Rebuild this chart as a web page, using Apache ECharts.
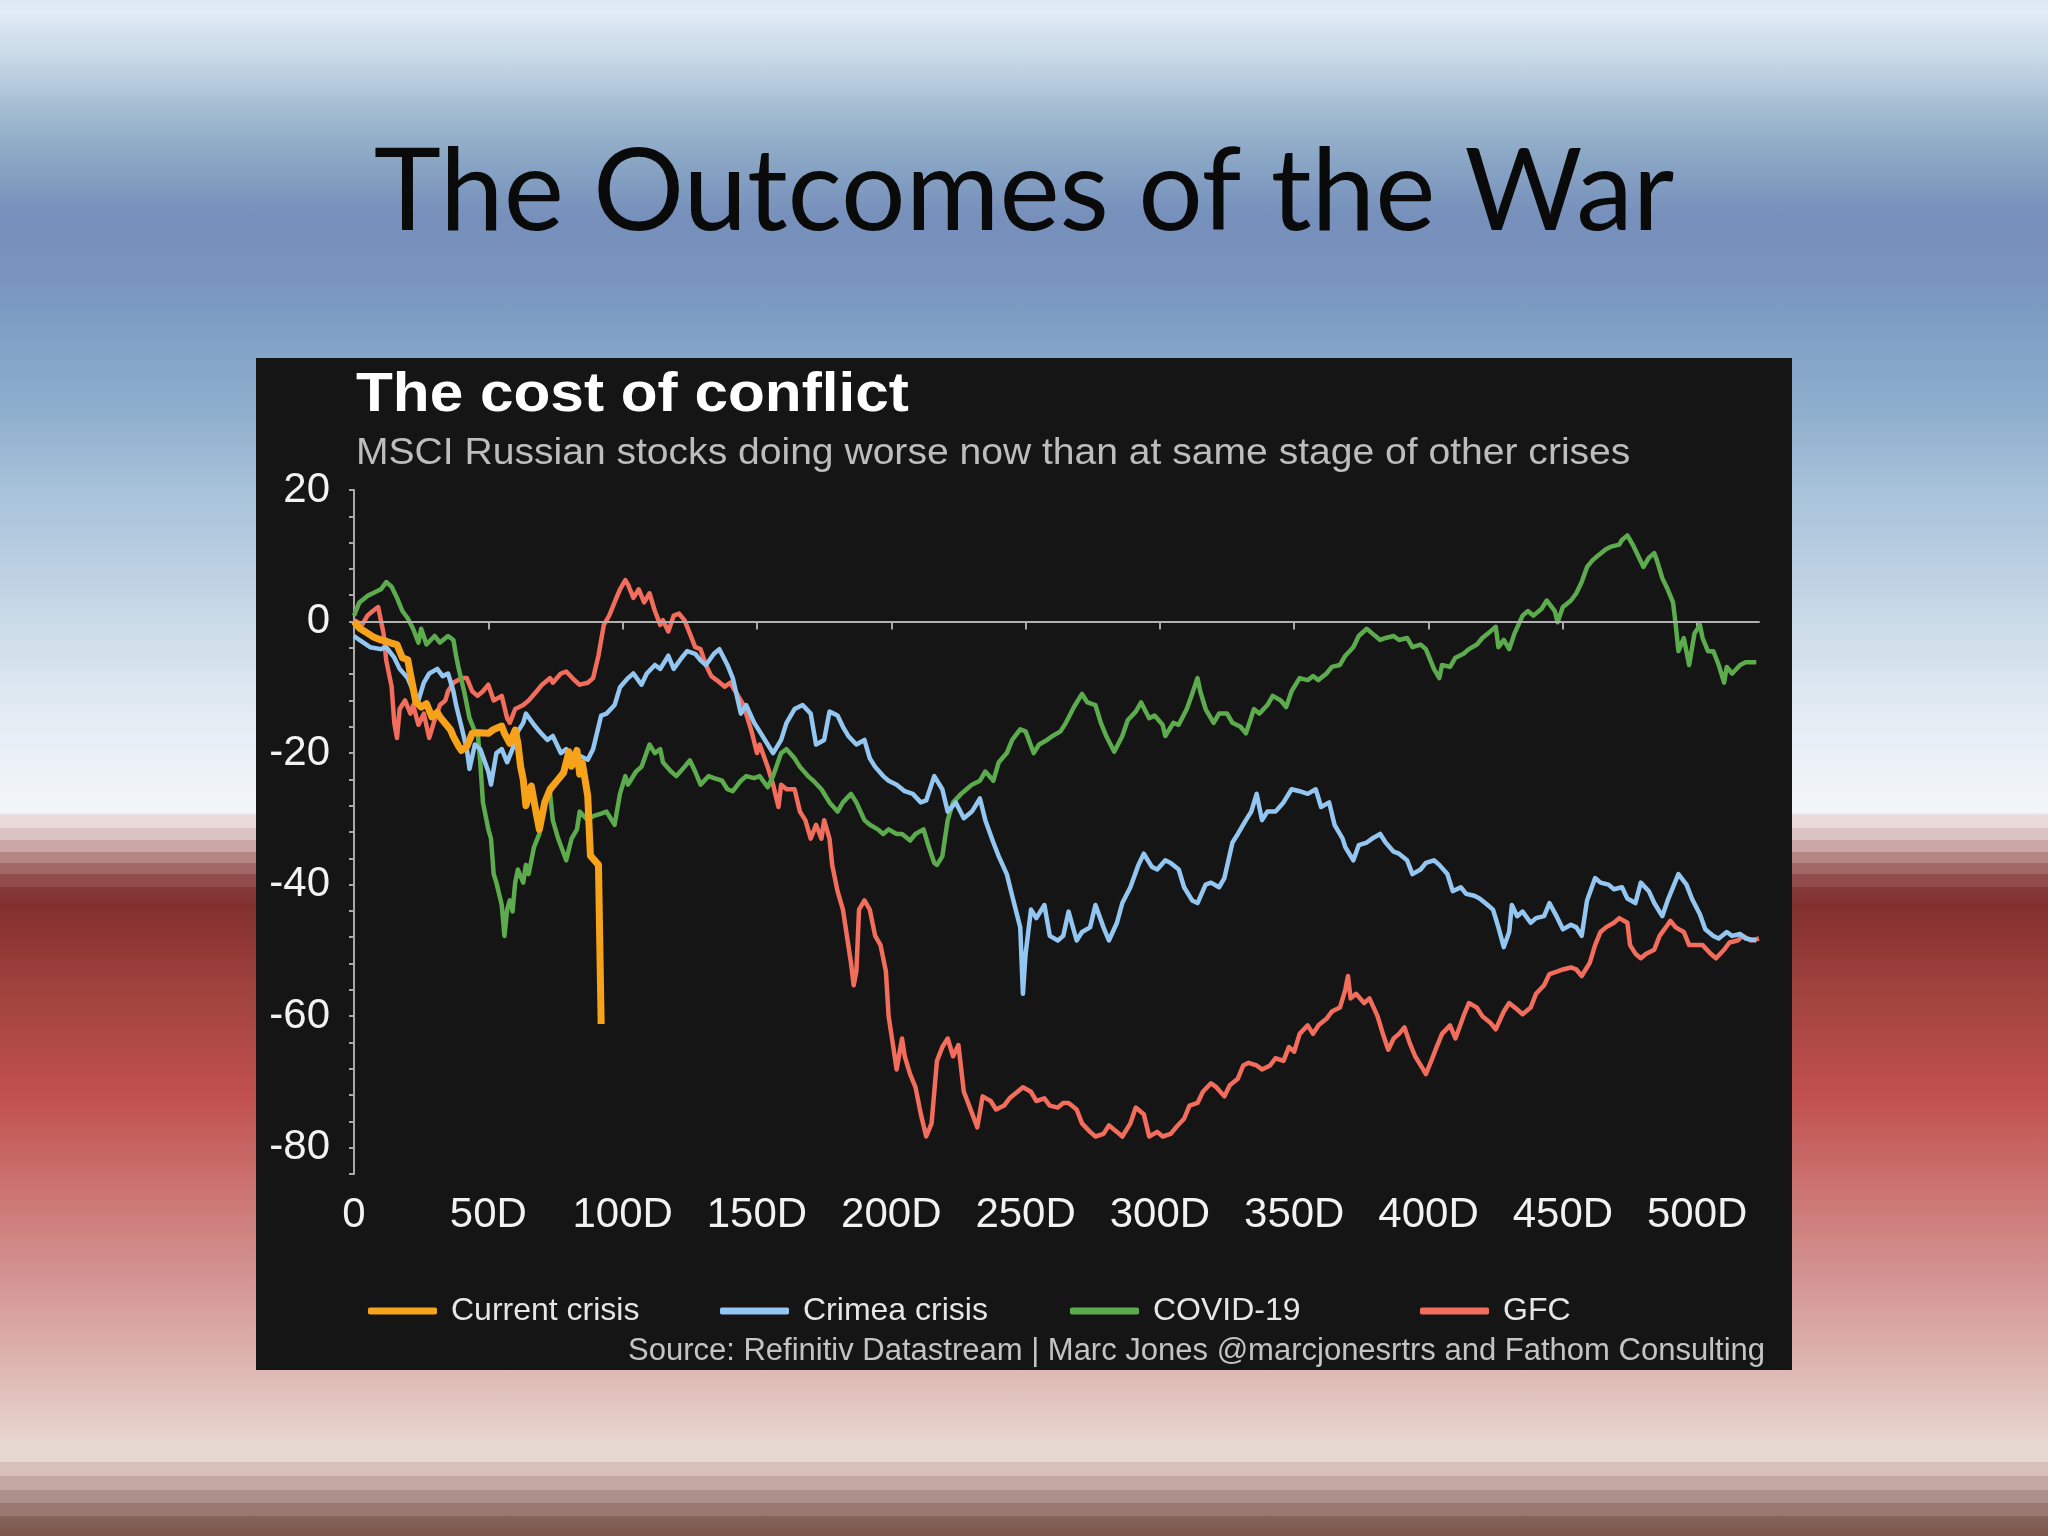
<!DOCTYPE html>
<html>
<head>
<meta charset="utf-8">
<title>The Outcomes of the War</title>
<script src="https://cdn.jsdelivr.net/npm/echarts@6/dist/echarts.min.js"></script>
<style>
  html, body { margin: 0; padding: 0; }
  body {
    width: 2048px; height: 1536px; overflow: hidden;
    background: linear-gradient(to bottom,
      #dde8f2 0px, #e2ecf5 12px, #d6e3ee 30px, #c9dae8 55px, #b5cadc 85px,
      #9fb9cf 115px, #8aa6c5 160px, #7690bb 215px, #7893bd 270px, #80a2c6 340px,
      #90b0ce 420px, #a7c2da 490px, #b9cee1 560px, #d0dfea 640px, #e4ecf4 720px,
      #f3f6f9 812px,
      #ead9d9 816px, #ead9d9 828px, #dcc3c3 828px, #dcc3c3 840px,
      #caa7a6 840px, #caa7a6 852px, #b48785 852px, #b48785 863px,
      #a06766 863px, #a06766 874px, #904b4a 874px, #904b4a 887px,
      #86393a 887px, #82302f 905px, #a4443f 1000px, #c0504d 1094px,
      #cb706d 1180px, #d49796 1286px, #e0bcb6 1380px, #e8d8d2 1446px,
      #e8d8d2 1462px, #d6c0b9 1462px, #d6c0b9 1476px, #c3a9a1 1476px,
      #c3a9a1 1490px, #ae918a 1490px, #ae918a 1503px, #9a7770 1503px,
      #9a7770 1516px, #87635b 1516px, #7d5549 1536px);
  }
  #main { width: 2048px; height: 1536px; }
</style>
</head>
<body>
<div id="main"></div>
<script>
// MSCI Russia, % change from the start of each crisis, [day, pct]
const currentCrisis = [
  [0, 0], [2, -1], [4, -1.5], [7, -2.3], [10, -2.8], [12, -3], [14, -3.3], [16, -3.5],
  [18, -5.5], [20, -5.8], [21, -8], [23, -12.2], [25, -13], [27, -12.5], [29, -14.5],
  [31, -13.8], [32, -14.5], [34, -15.5], [36, -16.5], [37, -17.5], [39, -19], [40, -19.6],
  [42, -19], [44, -17], [47, -16.9], [50, -17], [52, -16.4], [55, -15.9], [56, -17],
  [58, -18.5], [60, -16.5], [61, -18.5], [62, -22], [63, -24], [64, -28], [66, -25],
  [68, -29.5], [69, -31.6], [71, -27.5], [73, -25.5], [76, -24], [78, -23], [80, -19.8],
  [81, -22], [83, -19.6], [84, -23.2], [85, -21.5], [87, -26.5], [88, -35.6], [91, -37],
  [92, -61.2]
];

const crimeaCrisis = [
  [0, -2.2], [2, -2.8], [6, -3.9], [10, -4.2], [12, -3.9], [15, -5.5], [17, -7.2], [20, -8.6],
  [22, -10.6], [24, -12], [26, -9.3], [28, -7.9], [31, -7.2], [33, -8.3], [35, -7.9],
  [37, -10.6], [38, -12.7], [40, -16], [42, -19.4], [43, -22.4], [45, -18.7], [47, -19.4],
  [50, -22.8], [51, -24.8], [53, -20], [55, -19.4], [57, -21.4], [59, -19.4], [61, -16.7],
  [63, -15.4], [64, -14], [67, -15.7], [69, -16.7], [72, -18], [74, -17.4], [77, -20],
  [79, -19.4], [82, -21.8], [84, -20.4], [87, -21], [89, -19.4], [91, -16], [92, -14.3],
  [94, -14], [97, -12.7], [99, -10], [102, -8.6], [104, -7.9], [107, -9.6], [109, -7.9],
  [112, -6.6], [114, -7.2], [117, -5.2], [119, -7.2], [122, -5.5], [124, -4.5], [127, -4.9],
  [129, -5.9], [131, -6.6], [134, -4.9], [136, -4.2], [139, -6.6], [141, -8.6], [144, -14],
  [146, -12.7], [149, -15.4], [151, -16.7], [154, -18.7], [156, -20], [159, -18],
  [161, -15.4], [164, -13.3], [167, -12.7], [170, -14], [172, -18.7], [175, -18],
  [177, -13.7], [180, -14.3], [182, -16], [184, -17.4], [187, -18.7], [190, -18],
  [192, -20.8], [194, -22.1], [197, -23.5], [199, -24.2], [202, -24.8], [205, -25.8],
  [208, -26.2], [211, -27.5], [213, -27.2], [216, -23.5], [219, -25.5], [221, -28.9],
  [224, -27.5], [227, -29.9], [230, -28.9], [233, -26.9], [235, -30.2], [238, -33.6],
  [240, -35.7], [243, -38.4], [245, -41.7], [248, -46.5], [249, -56.6], [250, -50.5],
  [252, -43.8], [254, -45.1], [257, -43.1], [259, -47.8], [262, -48.5], [264, -47.8],
  [266, -44.1], [269, -48.5], [271, -47.2], [274, -46.5], [276, -43.1], [279, -46.5],
  [281, -48.5], [284, -45.8], [286, -42.8], [289, -40.4], [292, -37], [294, -35.3],
  [297, -37.3], [299, -37.7], [302, -36.3], [304, -36.7], [307, -37.7], [309, -40.4],
  [312, -42.4], [314, -42.8], [317, -40], [319, -39.7], [322, -40.4], [324, -39],
  [327, -33.6], [329, -32.3], [332, -30.2], [334, -28.9], [336, -26.2], [338, -30.2],
  [340, -28.9], [343, -28.9], [346, -27.5], [349, -25.5], [352, -25.8], [355, -26.2],
  [358, -25.5], [360, -28.2], [363, -27.5], [365, -30.9], [368, -33], [369, -34.3],
  [372, -36.3], [374, -34], [377, -33.6], [379, -33], [382, -32.3], [384, -33.6], [387, -35],
  [389, -35.3], [392, -36.3], [394, -38.4], [397, -37.7], [399, -36.7], [402, -36.3],
  [404, -37], [407, -38.4], [409, -41], [412, -40.4], [414, -41.4], [417, -41.7],
  [419, -42.1], [422, -43.1], [424, -43.8], [426, -46.5], [428, -49.5], [430, -47.2],
  [431, -43.1], [433, -44.8], [435, -44.1], [438, -45.8], [440, -45.1], [443, -44.8],
  [445, -42.8], [448, -45.1], [450, -46.8], [453, -46.1], [455, -46.5], [457, -47.8],
  [459, -42.4], [462, -39], [464, -39.7], [467, -40], [469, -40.7], [472, -40.4],
  [474, -42.1], [477, -42.8], [479, -39.7], [482, -41], [484, -42.8], [487, -44.8],
  [489, -42.4], [492, -39.4], [493, -38.4], [496, -40], [498, -42.1], [501, -44.5],
  [503, -46.8], [506, -47.8], [508, -48.2], [511, -47.2], [513, -47.8], [516, -47.5],
  [518, -48.2], [522, -48.5]
];

const covid19 = [
  [0, 0.9], [2, 2.9], [5, 3.9], [7, 4.3], [10, 4.9], [12, 6], [14, 5.3], [16, 3.6], [18, 1.6],
  [20, 0.5], [22, -1.1], [24, -3.2], [25, -1.1], [27, -3.5], [30, -2.2], [32, -3.2],
  [35, -2.2], [37, -2.8], [38, -5.2], [39, -7.2], [41, -10.6], [43, -14.7], [45, -16.7],
  [46, -16.7], [47, -21.4], [48, -27.5], [50, -31.6], [51, -33], [52, -38.4], [53, -39.7],
  [55, -43.1], [56, -47.8], [57, -43.8], [58, -42.4], [59, -44.1], [60, -39.7], [61, -37.7],
  [63, -39.7], [64, -37], [65, -38.4], [67, -34.3], [69, -32.3], [71, -27.5], [73, -26.2],
  [74, -30.2], [76, -33], [79, -36.3], [81, -33], [83, -31.6], [84, -28.9], [87, -30.2],
  [89, -29.6], [92, -29.2], [94, -28.9], [97, -30.9], [99, -26.2], [101, -23.5],
  [102, -24.8], [105, -22.8], [107, -22.1], [110, -18.7], [112, -20], [114, -19.4],
  [115, -21.4], [118, -22.8], [120, -23.5], [123, -22.1], [125, -21.1], [127, -22.8],
  [129, -24.8], [132, -23.5], [134, -23.8], [137, -24.2], [139, -25.5], [141, -25.8],
  [144, -24.2], [146, -23.5], [149, -23.8], [151, -23.5], [154, -25.2], [156, -23.5],
  [159, -20], [161, -19.4], [164, -20.8], [166, -22.1], [169, -23.5], [171, -24.2],
  [174, -25.5], [177, -27.5], [180, -28.9], [182, -27.5], [185, -26.2], [187, -27.5],
  [190, -30.2], [192, -30.9], [195, -31.6], [197, -32.3], [199, -31.6], [202, -32.3],
  [204, -32.3], [207, -33.3], [209, -32.3], [212, -31.6], [214, -34.3], [216, -36.7],
  [217, -37], [219, -35.7], [221, -30.2], [223, -27.5], [226, -26.2], [228, -25.5],
  [230, -24.8], [233, -24.2], [235, -22.8], [238, -24.2], [240, -21.4], [243, -20],
  [245, -18], [248, -16.4], [250, -16.7], [253, -20], [255, -18.7], [258, -18], [260, -17.4],
  [263, -16.7], [265, -15.4], [268, -13], [271, -11], [273, -12.3], [276, -12.7],
  [278, -15.4], [280, -17.4], [283, -19.8], [286, -17.4], [288, -15], [291, -13.7],
  [293, -12.3], [296, -14.7], [298, -14.3], [301, -15.7], [302, -17.4], [305, -15.4],
  [307, -15.7], [310, -13.3], [312, -11], [314, -8.6], [315, -10.6], [317, -13.3],
  [320, -15.4], [322, -14], [325, -14], [327, -15.4], [330, -16], [332, -17], [335, -13.3],
  [337, -14], [340, -12.7], [342, -11.3], [345, -12], [347, -13], [349, -10.6], [352, -8.6],
  [355, -8.9], [357, -8.3], [359, -8.9], [362, -7.9], [364, -6.9], [367, -6.6], [369, -5.2],
  [372, -3.9], [374, -2.2], [377, -1.1], [379, -1.8], [382, -2.8], [384, -2.5], [387, -2.2],
  [389, -2.8], [392, -2.5], [394, -3.9], [397, -3.5], [399, -4.2], [402, -7.2], [404, -8.6],
  [405, -6.6], [408, -6.9], [410, -5.5], [413, -4.9], [415, -4.2], [418, -3.5], [420, -2.5],
  [423, -1.5], [425, -0.8], [426, -3.9], [428, -2.8], [430, -4.2], [432, -1.8], [435, 0.9],
  [437, 1.6], [439, 0.9], [442, 1.9], [444, 3.2], [447, 1.6], [448, -0.1], [450, 2.2],
  [453, 3.2], [455, 4.3], [457, 6], [459, 8.3], [461, 9.3], [463, 10], [466, 11],
  [468, 11.4], [471, 11.7], [472, 12.4], [474, 13.1], [476, 11.7], [478, 10], [480, 8.3],
  [482, 9.7], [484, 10.4], [485, 9.3], [487, 6.6], [489, 4.9], [491, 2.9], [492, -0.5],
  [493, -4.5], [495, -2.5], [497, -6.6], [499, -1.8], [501, -0.5], [502, -2.5], [504, -4.5],
  [506, -4.5], [508, -6.6], [510, -9.3], [511, -6.9], [513, -7.9], [516, -6.6], [518, -6.2],
  [522, -6.2]
];

const gfc = [
  [0, 0.2], [3, -0.5], [5, 0.9], [7, 1.6], [9, 2.2], [11, -1.8], [12, -5.9], [14, -9.9],
  [15, -15.4], [16, -17.7], [17, -13.3], [19, -12], [21, -14], [22, -12.7], [24, -15.7],
  [26, -14], [28, -17.7], [30, -15], [32, -12.7], [34, -12], [35, -10.6], [37, -9.3],
  [40, -8.6], [42, -8.6], [44, -10.6], [46, -11.3], [48, -10.6], [50, -9.6], [52, -12],
  [55, -11.3], [57, -14.7], [58, -15.4], [60, -13.3], [63, -12.7], [65, -12], [68, -10.6],
  [70, -9.6], [73, -8.6], [74, -9.3], [77, -7.9], [79, -7.6], [82, -8.9], [84, -9.6],
  [87, -9.3], [89, -8.6], [91, -5.2], [93, -0.5], [95, 0.9], [97, 2.9], [99, 4.9], [101, 6.3],
  [102, 5.6], [104, 3.6], [106, 4.9], [108, 2.9], [110, 4.3], [112, 1.6], [114, -0.5],
  [115, 0.2], [117, -1.5], [119, 0.9], [121, 1.2], [123, 0.2], [125, -1.8], [127, -3.9],
  [129, -4.2], [131, -6.6], [133, -8.3], [135, -8.9], [138, -9.9], [140, -9.3], [143, -11.3],
  [145, -12.7], [148, -16.7], [150, -20], [151, -18.7], [154, -22.1], [156, -24.8],
  [158, -28.2], [159, -24.8], [161, -25.5], [164, -25.5], [166, -28.9], [168, -30.2],
  [170, -33], [172, -30.9], [174, -33], [175, -30.2], [177, -33], [178, -37], [180, -41],
  [182, -43.8], [183, -46.5], [185, -51.9], [186, -55.3], [187, -53.2], [188, -43.8],
  [190, -42.4], [192, -43.8], [194, -47.8], [196, -49.2], [198, -53.2], [199, -60],
  [201, -65.4], [202, -68.1], [204, -63.4], [205, -66.1], [207, -68.8], [209, -70.8],
  [211, -74.9], [213, -78.3], [215, -76.3], [217, -66.8], [219, -64.7], [221, -63.4],
  [223, -66.1], [225, -64.4], [227, -71.5], [229, -73.6], [232, -76.9], [234, -72.2],
  [237, -72.9], [239, -74.2], [242, -73.6], [244, -72.5], [247, -71.5], [249, -70.8],
  [252, -71.5], [254, -72.9], [257, -72.5], [259, -73.6], [262, -73.9], [264, -73.2],
  [266, -73.2], [269, -74.2], [271, -76.3], [274, -77.6], [276, -78.3], [279, -77.9],
  [281, -76.6], [284, -77.6], [286, -78.3], [289, -76.3], [291, -73.9], [294, -74.9],
  [296, -78.3], [299, -77.6], [301, -78.3], [304, -77.9], [306, -76.9], [309, -75.6],
  [311, -73.6], [314, -73.2], [316, -71.5], [319, -70.2], [321, -70.8], [324, -72.2],
  [326, -70.5], [329, -69.5], [331, -67.5], [333, -67.1], [336, -67.5], [338, -68.1],
  [341, -67.5], [343, -66.4], [346, -66.8], [348, -64.7], [350, -65.4], [352, -62.7],
  [355, -61.4], [357, -62.7], [359, -61.4], [362, -60.4], [364, -59.3], [367, -58.7],
  [369, -56], [370, -53.9], [371, -57.3], [373, -56.6], [376, -58], [378, -57.3], [381, -60],
  [383, -62.7], [385, -65.1], [387, -63.4], [389, -62.7], [391, -61.7], [393, -64.1],
  [395, -66.1], [398, -68.1], [399, -68.8], [401, -66.8], [403, -64.7], [405, -62.7],
  [408, -61.4], [410, -63.4], [413, -60], [415, -58], [418, -58.7], [420, -60], [423, -61],
  [425, -62], [428, -59.3], [430, -58], [433, -59], [435, -59.7], [438, -58.7], [440, -56.6],
  [443, -55.3], [445, -53.6], [448, -53.2], [450, -52.9], [453, -52.6], [455, -52.9],
  [457, -53.9], [460, -51.9], [462, -49.2], [464, -47.2], [466, -46.5], [469, -45.8],
  [471, -45.1], [474, -45.8], [475, -49.2], [477, -50.5], [479, -51.2], [481, -50.5],
  [484, -49.9], [486, -47.8], [489, -46.1], [490, -45.5], [492, -46.5], [495, -47.2],
  [497, -49.2], [500, -49.2], [502, -49.2], [505, -50.5], [507, -51.2], [510, -49.9],
  [512, -48.8], [515, -48.5], [517, -47.8], [520, -48.5], [523, -48.2]
];

const seriesNames = ['Current crisis', 'Crimea crisis', 'COVID-19', 'GFC'];
const seriesColors = ['#f7a21b', '#93c6f0', '#5cab4d', '#f26d5b'];
const legendLefts = [363, 715, 1065, 1415];

const xStep = 50;     // day ticks, labelled "50D", "100D", ...
const yLabelStep = 20;

const LABEL_FONT = '"Liberation Sans", Arial, sans-serif';

const chart = echarts.init(document.getElementById('main'));

const lineSeries = (idx, data, width, z) => ({
  name: seriesNames[idx],
  type: 'line',
  data: data,
  showSymbol: false,
  symbol: 'none',
  z: z,
  color: seriesColors[idx],
  lineStyle: { color: seriesColors[idx], width: width, join: 'round' }
});

const legends = seriesNames.map((name, i) => ({
  data: [name],
  left: legendLefts[i],
  top: 1290,
  icon: 'roundRect',
  itemWidth: 69,
  itemHeight: 7,
  selectedMode: false,
  textStyle: { color: '#e6e6e6', fontSize: 32, fontFamily: LABEL_FONT, padding: [0, 0, 0, 9] }
}));

const option = {
  animation: false,
  backgroundColor: 'transparent',
  grid: { left: 354, top: 490, width: 1405, height: 684 },
  xAxis: {
    type: 'value',
    min: 0,
    max: 523,
    interval: xStep,
    axisLine: { lineStyle: { color: '#a9a9a9', width: 2 } },
    axisTick: { show: true, length: 8, lineStyle: { color: '#a9a9a9', width: 2 } },
    splitLine: { show: false },
    axisLabel: {
      color: '#f2f2f2', fontSize: 42, fontFamily: LABEL_FONT, margin: 20,
      showMaxLabel: false,
      formatter: v => (v === 0 ? '0' : (v % xStep === 0 ? v + 'D' : ''))
    }
  },
  yAxis: {
    type: 'value',
    min: -84,
    max: 20,
    interval: 4,
    axisLine: { show: true, lineStyle: { color: '#a9a9a9', width: 2 } },
    axisTick: { show: true, length: 5, lineStyle: { color: '#a9a9a9', width: 2 } },
    splitLine: { show: false },
    axisLabel: {
      color: '#f2f2f2', fontSize: 42, fontFamily: LABEL_FONT, margin: 24,
      formatter: v => (v % yLabelStep === 0 ? String(v) : '')
    }
  },
  legend: legends,
  graphic: [
    // dark chart panel
    { type: 'rect', z: -10, shape: { x: 256, y: 358, width: 1536, height: 1012 }, style: { fill: '#151515' } },
    { type: 'text', x: 1024, y: 193, style: { text: 'The Outcomes of the War', fill: '#0a0a0a',
      font: '114px Lato, "Open Sans", sans-serif', align: 'center', verticalAlign: 'middle' } },
    // the chart picture in the slide is a little stretched sideways
    { type: 'text', x: 356, y: 396, scaleX: 1.077, style: { text: 'The cost of conflict', fill: '#ffffff',
      font: 'bold 56px ' + LABEL_FONT, align: 'left', verticalAlign: 'middle' } },
    { type: 'text', x: 356, y: 454, scaleX: 1.085, style: { text: 'MSCI Russian stocks doing worse now than at same stage of other crises',
      fill: '#bdbdbd', font: '36px ' + LABEL_FONT, align: 'left', verticalAlign: 'middle' } },
    { type: 'text', x: 1765, y: 1351, style: { text: 'Source: Refinitiv Datastream | Marc Jones @marcjonesrtrs and Fathom Consulting',
      fill: '#c4c4c4', font: '31px ' + LABEL_FONT, align: 'right', verticalAlign: 'middle' } }
  ],
  series: [
    Object.assign(lineSeries(3, gfc, 4.5, 2), {
      markLine: {
        silent: true, symbol: 'none', label: { show: false },
        lineStyle: { color: '#b0b0b0', width: 2, type: 'solid' },
        data: [{ yAxis: 0 }]
      }
    }),
    lineSeries(2, covid19, 4.5, 3),
    lineSeries(1, crimeaCrisis, 4.5, 4),
    lineSeries(0, currentCrisis, 7, 5)
  ]
};

chart.setOption(option);
</script>
</body>
</html>
